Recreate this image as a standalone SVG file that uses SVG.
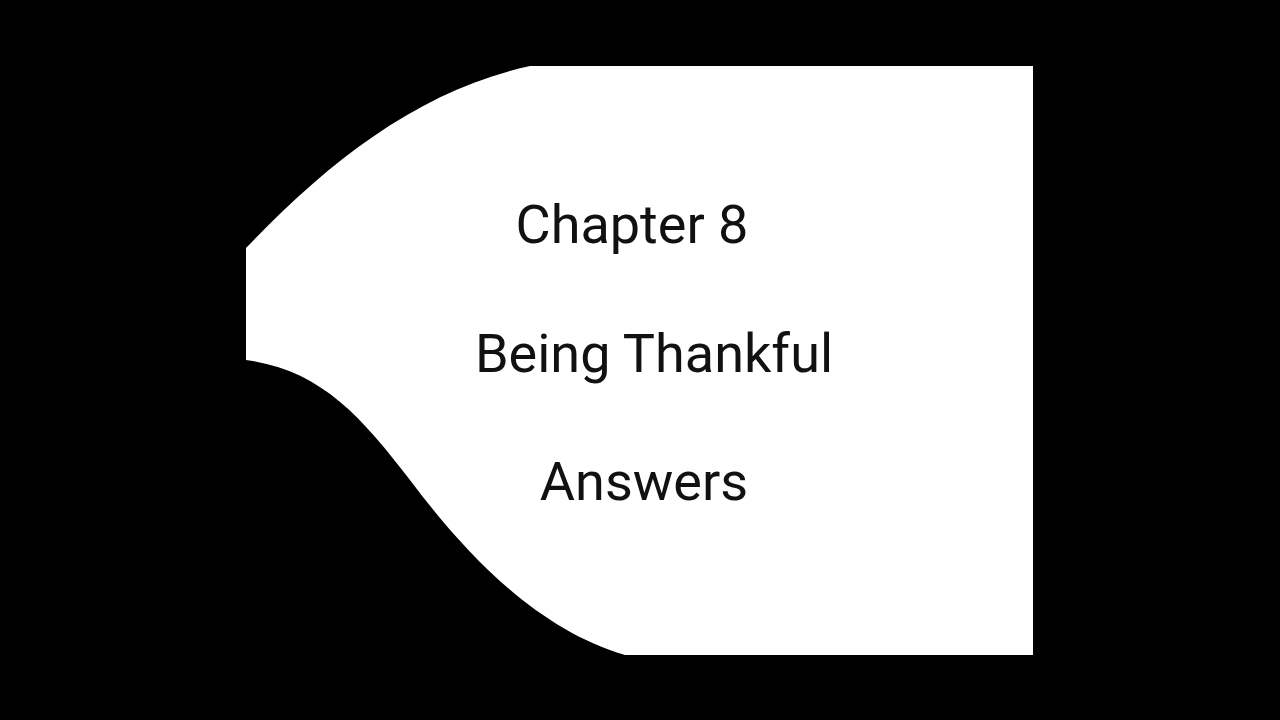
<svg xmlns="http://www.w3.org/2000/svg" width="1280" height="720" viewBox="0 0 1280 720">
<style>.t{font-family:"Roboto","Liberation Sans",sans-serif;font-size:54px;fill:#111;text-anchor:middle}</style>
<rect width="1280" height="720" fill="#000"/>
<g id="card">
<path d="M530,66 L1033,66 L1033,655 L625,655 C540,630 470,560 410,480 C360,415 320,370 246,360 L246,248 C330,160 420,90 530,66 Z" fill="#fff"/>
</g>
<g id="texts">
<text class="t" x="632" y="243">Chapter 8</text>
<text class="t" x="654" y="372">Being Thankful</text>
<text class="t" x="644" y="500">Answers</text>
</g>
</svg>
